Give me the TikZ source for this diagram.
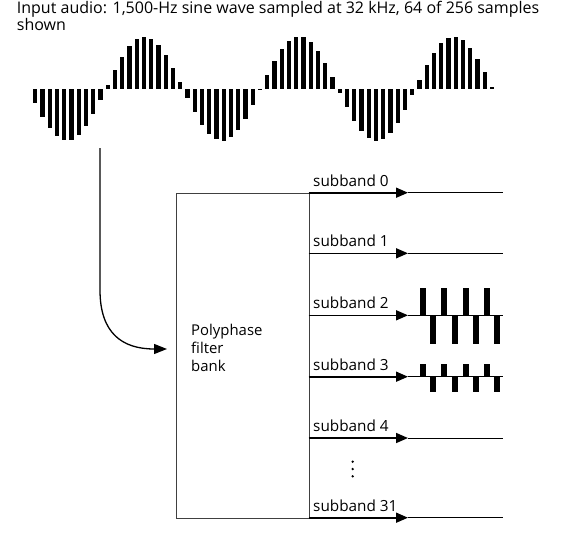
\documentclass[tikz,border=0pt]{standalone}
\usepackage{fontspec}
\setmainfont{Open Sans}
\usetikzlibrary{arrows.meta}
\begin{document}
\begin{tikzpicture}[x=1pt,y=-1pt,
  lbl/.style={anchor=base west, inner sep=0pt, font=\fontsize{15.3}{18}\selectfont},
  ttl/.style={anchor=base west, inner sep=0pt, font=\fontsize{16}{18}\selectfont},
  trunk/.style={draw=black!75, line width=0.8pt},
  band/.style={line width=1.6pt, -{Triangle[length=12pt,width=10pt]}},
  tail/.style={line width=0.8pt},
  inarrow/.style={line width=1.3pt, -{Triangle[length=13pt,width=10pt]}},
]
\useasboundingbox (0,0) rectangle (578,541);

% title
\node[ttl] (t1) at (16.7,13.3) {Input audio: 1,500-Hz sine wave sampled at 32 kHz, 64 of 256 samples};
\node[ttl] (t2) at (16.7,30) {shown};

% sampled sine wave
\foreach \n in {0,...,63}{
  \pgfmathsetmacro\yy{88.7+52*sin(deg(0.27+\n*0.29452))}
  \pgfmathsetmacro\xx{35.3+\n*7.25}
  \fill (\xx-2.1,88.7) rectangle (\xx+2.1,\yy);
}

% filter bank box
\node[trunk, minimum width=133pt, minimum height=325.2pt, inner sep=0pt, anchor=north west] (fb) at (175.7,192.5) {};
\node[lbl, font=\fontsize{14.9}{18}\selectfont, align=left, anchor=north west] (fbl) at (191,323.5) {Polyphase\\filter\\bank};

% input arrow
\coordinate (wb) at (100,148);
\coordinate (fbin) at (167,349);
\draw[inarrow] (wb) -- (100,290) .. controls (100,333) and (122,349) .. (fbin);

% subbands
\foreach \i/\y/\t in {0/192.7/subband 0, 1/253.3/subband 1, 2/315.3/subband 2, 3/376.7/subband 3, 4/438/subband 4, 31/517.7/subband 31}{
  \coordinate (b\i) at (308.7,\y);
  \coordinate (a\i) at (408,\y);
  \coordinate (e\i) at (502.7,\y);
  \draw[band] (b\i) -- (a\i);
  \draw[tail] (a\i) -- (e\i);
  \node[lbl] (l\i) at (313,\y-6.5) {\t};
}

% subband 2 output
\foreach \k in {0,...,3}{
  \fill (420+21.3*\k,287.7) rectangle ++(6,27.6);
  \fill (430.3+21.3*\k,315.3) rectangle ++(6,28.2);
}
% subband 3 output
\foreach \k in {0,...,3}{
  \fill (420+21.3*\k,364.3) rectangle ++(6,12.4);
  \fill (430.3+21.3*\k,376.7) rectangle ++(6,15);
}

% vertical dots
\foreach \d in {461.7,469,476.3}{
  \fill (352.7,\d) circle (1.3);
}
\end{tikzpicture}
\end{document}
